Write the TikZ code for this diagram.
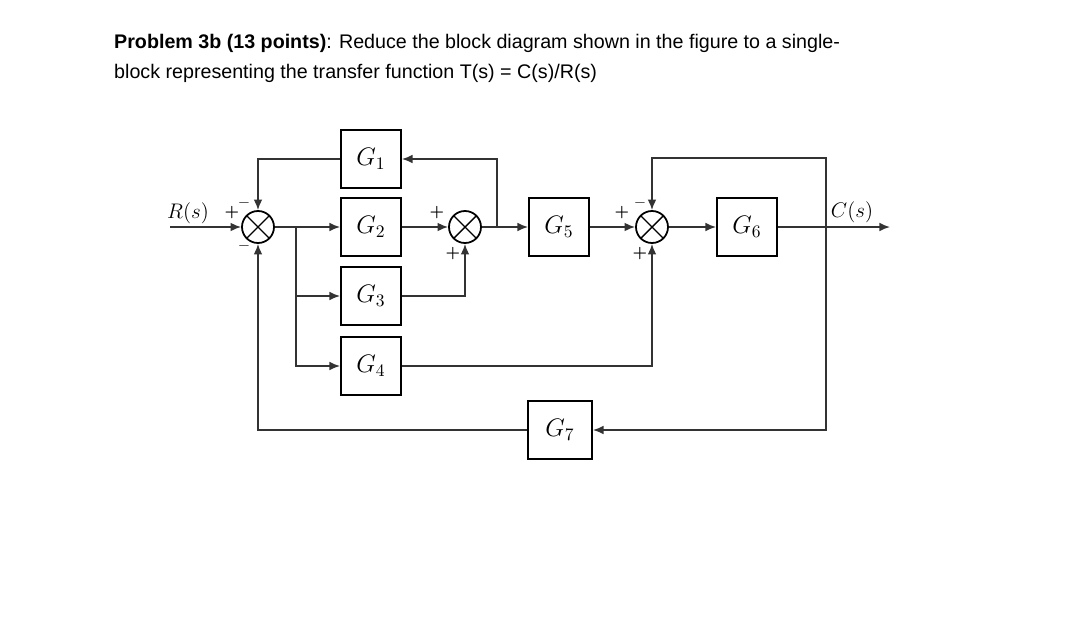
\documentclass[tikz,border=0pt]{standalone}
\usepackage{fontspec}
\newfontfamily\sans{Liberation Sans}
\usetikzlibrary{arrows.meta}
\begin{document}
\begin{tikzpicture}[x=0.02cm,y=-0.02cm,
 blk/.style={draw,line width=1.1pt,minimum width=60*0.02cm,minimum height=58*0.02cm,inner sep=0,font=\Large},
 sum/.style={draw,circle,line width=1pt,minimum size=32*0.02cm,inner sep=0,path picture={\draw[line width=0.8pt] (path picture bounding box.south west)--(path picture bounding box.north east) (path picture bounding box.north west)--(path picture bounding box.south east);}},
 ln/.style={line width=1pt,draw=black!80},
 ar/.style={ln,-{Latex[length=6pt,width=5pt]}},
 sg/.style={font=\bfseries\small,inner sep=0}]
\useasboundingbox (0,0) rectangle (1080,643);
\node[anchor=base west,font=\sans\fontsize{11.2}{13}\selectfont] (t1) at (108,48) {\textbf{Problem 3b (13 points)}: Reduce the block diagram shown in the figure to a single-};
\node[anchor=base west,font=\sans\fontsize{11.2}{13}\selectfont] (t2) at (108,78) {block representing the transfer function T(s) = C(s)/R(s)};
\node[sum] (s1) at (258,227) {};
\node[sum] (s2) at (465,227) {};
\node[sum] (s3) at (652,227) {};
\node[blk] (g1) at (371,159) {$G_1$};
\node[blk] (g2) at (371,227) {$G_2$};
\node[blk] (g3) at (371,296) {$G_3$};
\node[blk] (g4) at (371,366) {$G_4$};
\node[blk] (g5) at (559,227) {$G_5$};
\node[blk] (g6) at (747,227) {$G_6$};
\node[blk,minimum width=64*0.02cm] (g7) at (560,430) {$G_7$};
\coordinate (rin) at (170,227);
\coordinate (cout) at (890,227);
\coordinate (b1) at (296,227);
\coordinate (b2) at (497,227);
\coordinate (b3) at (826,227);
\node[font=\large] (rl) at (188,213) {$R(s)$};
\node[font=\large] (cl) at (852,212) {$C(s)$};
\draw[ar] (rin) -- (s1);
\draw[ln] (s1) -- (b1);
\draw[ar] (b1) -- (g2);
\draw[ar] (b1) |- (g3);
\draw[ar] (b1) |- (g4);
\draw[ar] (g2) -- (s2);
\draw[ar] (g3) -| (s2);
\draw[ln] (s2) -- (b2);
\draw[ar] (b2) -- (g5);
\draw[ar] (b2) |- (g1);
\draw[ar] (g1) -| (s1);
\draw[ar] (g5) -- (s3);
\draw[ar] (g4) -| (s3);
\draw[ar] (s3) -- (g6);
\draw[ar] (g6) -- (cout);
\draw[ar] (b3) -- (826,158) -| (s3);
\draw[ar] (b3) |- (g7);
\draw[ar] (g7) -| (s1);
\node[sg] (p1) at (232,213) {+};
\node[sg] (m1) at (244,205) {--};
\node[sg] (m2) at (244,248) {--};
\node[sg] (p2) at (437,213) {+};
\node[sg] (p3) at (453,254) {+};
\node[sg] (p4) at (622,213) {+};
\node[sg] (m3) at (640,205) {--};
\node[sg] (p5) at (640,254) {+};
\end{tikzpicture}
\end{document}
